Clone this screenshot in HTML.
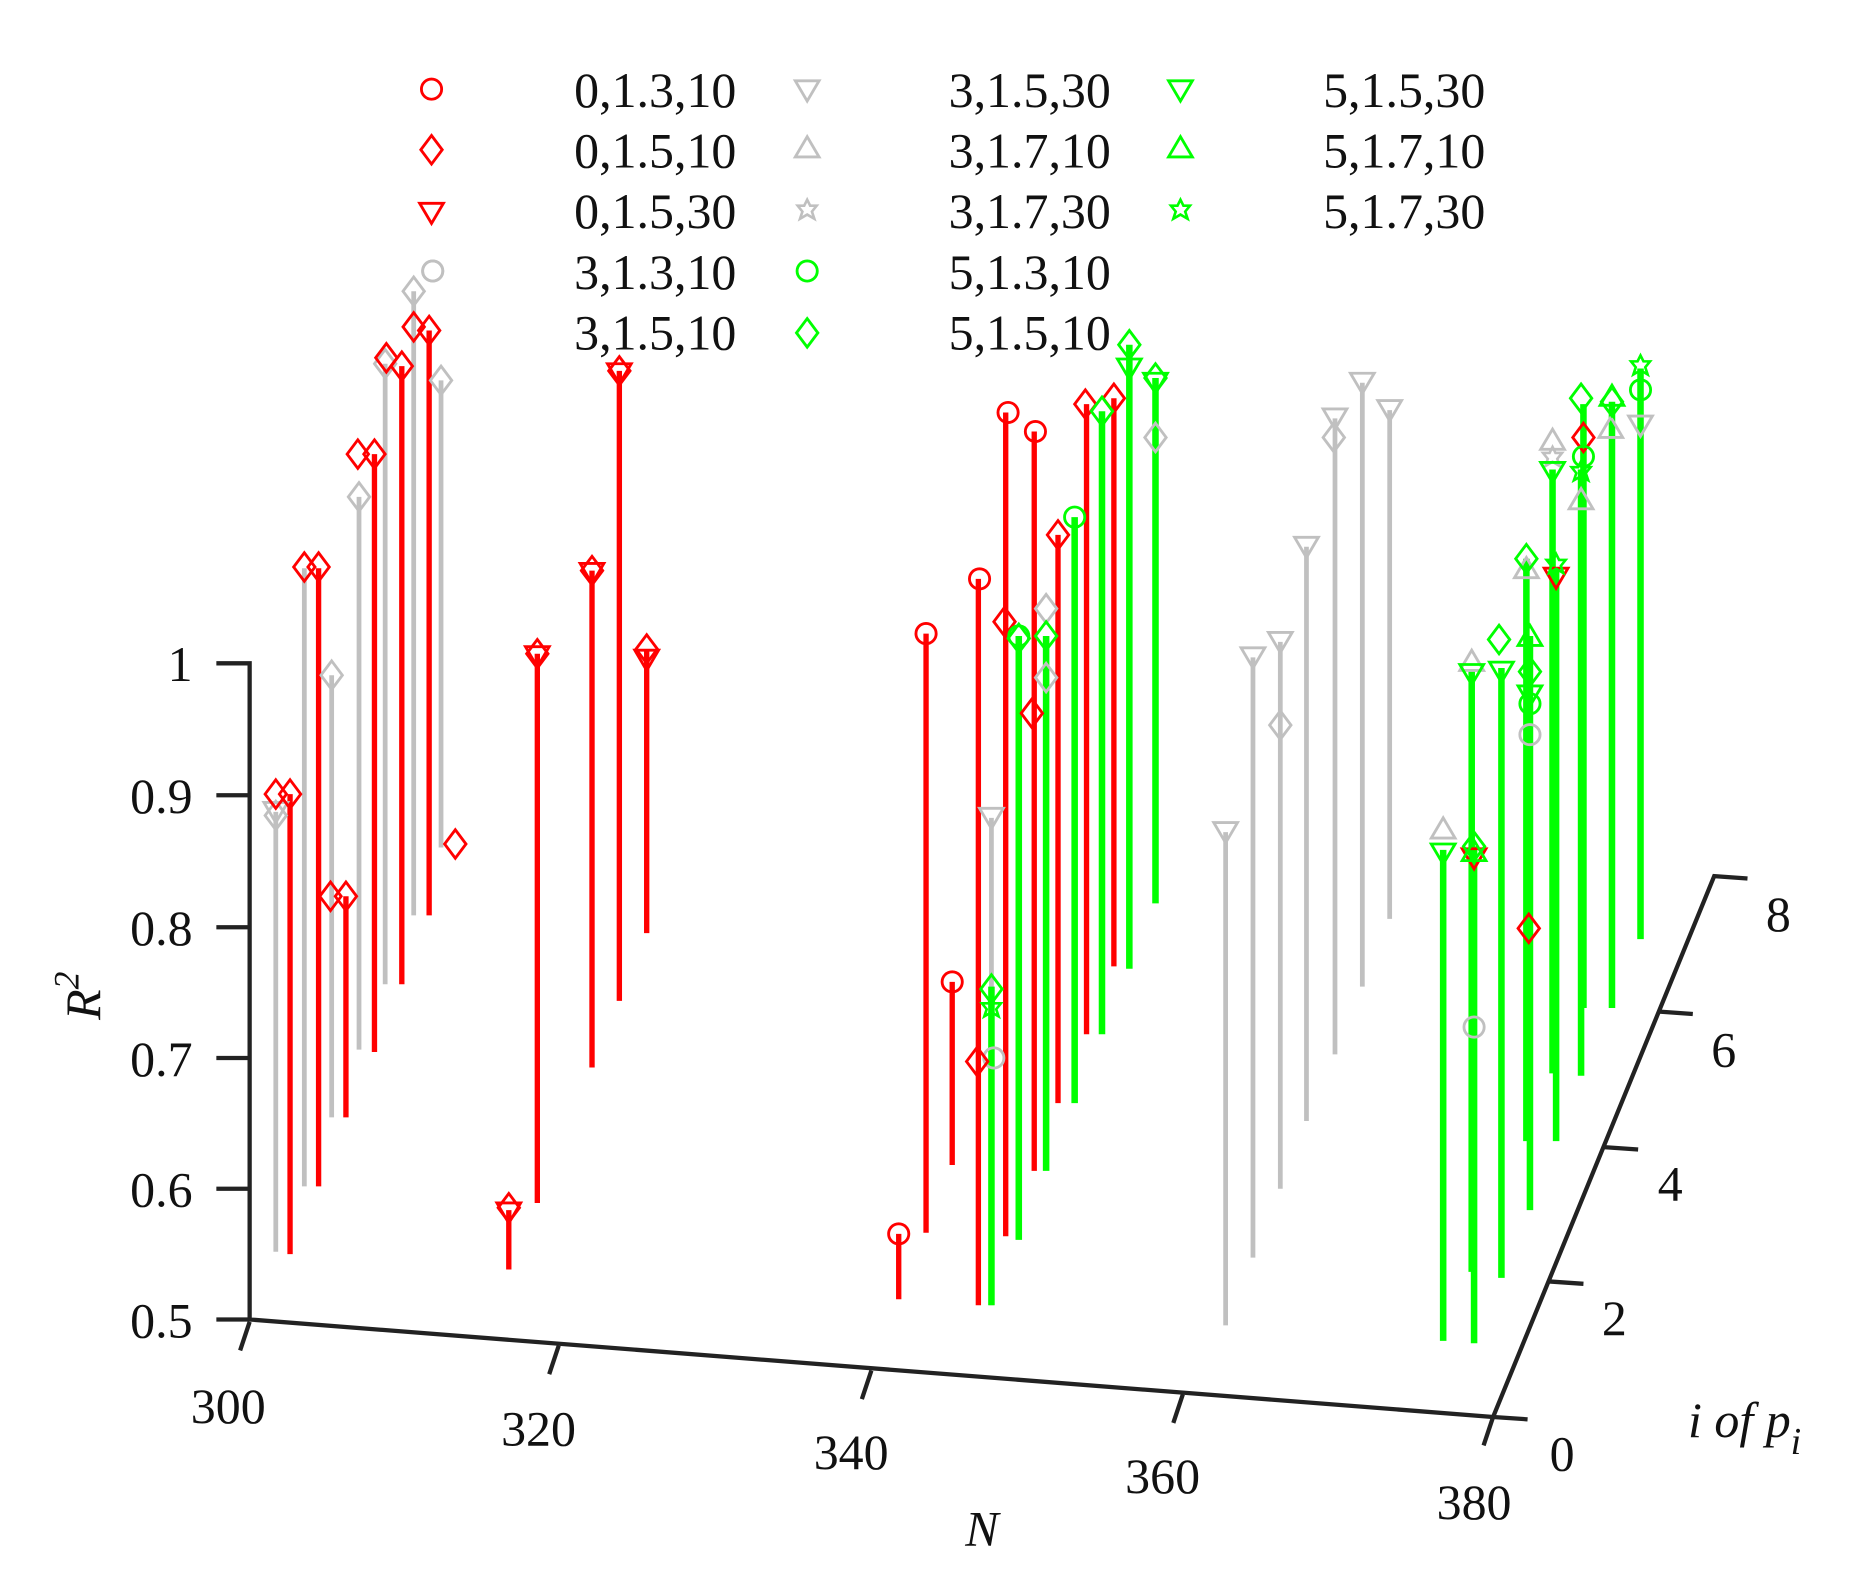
<!DOCTYPE html>
<html><head><meta charset="utf-8"><style>
html,body{margin:0;padding:0;background:#fff;}
svg{display:block;}
text{font-family:"Liberation Serif","Times New Roman",Times,serif;fill:#111;}
</style></head><body>
<svg width="1864" height="1581" viewBox="0 0 1568 1330" preserveAspectRatio="none" xmlns="http://www.w3.org/2000/svg">
<defs>
<circle id="o" r="8.5" fill="none" stroke-width="2.4"/>
<polygon id="d" points="0,-12 9,0 0,12 -9,0" fill="none" stroke-width="2.4"/>
<polygon id="v" points="-10,-8 10,-8 0,9" fill="none" stroke-width="2.4"/>
<polygon id="a" points="-10,8 10,8 0,-9" fill="none" stroke-width="2.4"/>
<polygon id="s" points="0,-9 2.5,-4 8,-4 4,1 6,7 0,3.5 -6,7 -4,1 -8,-4 -2.5,-4" fill="none" stroke-width="2.2"/>
</defs>

<g stroke="#222" stroke-width="3.6" fill="none">
<polyline points="182,558 210,558 210,1110 1256,1192 1442,737 1470,739"/>
<line x1="182" y1="669" x2="210" y2="669"/><line x1="182" y1="780" x2="210" y2="780"/>
<line x1="182" y1="890" x2="210" y2="890"/><line x1="182" y1="1000" x2="210" y2="1000"/>
<line x1="182" y1="1110" x2="210" y2="1110"/>
<line x1="210" y1="1112" x2="202" y2="1136"/><line x1="470" y1="1132" x2="462" y2="1156"/>
<line x1="733" y1="1153" x2="725" y2="1177"/><line x1="995" y1="1173" x2="987" y2="1197"/>
<line x1="1256" y1="1192" x2="1248" y2="1216"/>
<line x1="1256" y1="1192" x2="1285" y2="1194"/><line x1="1303" y1="1078" x2="1332" y2="1080"/>
<line x1="1349" y1="965" x2="1378" y2="967"/><line x1="1396" y1="851" x2="1424" y2="853"/>
</g>
<g font-size="42" text-anchor="end">
<text x="162" y="573">1</text><text x="162" y="684">0.9</text><text x="162" y="795">0.8</text>
<text x="162" y="905">0.7</text><text x="162" y="1015">0.6</text><text x="162" y="1125">0.5</text>
</g>
<g font-size="42" text-anchor="middle">
<text x="192" y="1197">300</text><text x="453" y="1216">320</text><text x="716" y="1236">340</text>
<text x="978" y="1256">360</text><text x="1240" y="1278">380</text>
<text x="1314" y="1237">0</text><text x="1358" y="1123">2</text><text x="1405" y="1010">4</text>
<text x="1450" y="897">6</text><text x="1496" y="783">8</text>
<text x="826" y="1300" font-style="italic">N</text>
</g>
<text x="1420" y="1209" font-size="42" font-style="italic">i of p<tspan font-size="32" dy="14">i</tspan></text>
<text transform="translate(84,858) rotate(-90)" font-size="42" font-style="italic">R<tspan font-size="30" dy="-18">2</tspan></text>

<g font-size="42">
<text x="483" y="90">0,1.3,10</text><text x="483" y="141">0,1.5,10</text><text x="483" y="192">0,1.5,30</text>
<text x="483" y="243">3,1.3,10</text><text x="483" y="294">3,1.5,10</text>
<text x="798" y="90">3,1.5,30</text><text x="798" y="141">3,1.7,10</text><text x="798" y="192">3,1.7,30</text>
<text x="798" y="243">5,1.3,10</text><text x="798" y="294">5,1.5,10</text>
<text x="1113" y="90">5,1.5,30</text><text x="1113" y="141">5,1.7,10</text><text x="1113" y="192">5,1.7,30</text>
</g>
<use href="#o" x="363" y="75" stroke="#f00"/><use href="#d" x="363" y="126" stroke="#f00"/>
<use href="#v" x="363" y="179" stroke="#f00"/><use href="#o" x="364" y="228" stroke="#c0c0c0"/>
<use href="#v" x="679" y="76" stroke="#c0c0c0"/><use href="#a" x="679" y="124" stroke="#c0c0c0"/>
<use href="#s" x="679" y="177" stroke="#c0c0c0"/><use href="#o" x="679" y="228" stroke="#0f0"/>
<use href="#d" x="679" y="280" stroke="#0f0"/>
<use href="#v" x="993" y="76" stroke="#0f0"/><use href="#a" x="993" y="124" stroke="#0f0"/>
<use href="#s" x="993" y="177" stroke="#0f0"/>

<g stroke="#c0c0c0" stroke-width="4">
<line x1="232" y1="683" x2="232" y2="1053"/><line x1="256" y1="478" x2="256" y2="998"/>
<line x1="279" y1="568" x2="279" y2="940"/><line x1="302" y1="418" x2="302" y2="883"/>
<line x1="324" y1="306" x2="324" y2="828"/><line x1="348" y1="245" x2="348" y2="770"/>
<line x1="371" y1="320" x2="371" y2="713"/>
<line x1="834" y1="688" x2="834" y2="1098"/>
<line x1="1031" y1="700" x2="1031" y2="1115"/><line x1="1054" y1="553" x2="1054" y2="1058"/>
<line x1="1077" y1="540" x2="1077" y2="1000"/><line x1="1099" y1="460" x2="1099" y2="943"/>
<line x1="1123" y1="352" x2="1123" y2="887"/><line x1="1146" y1="322" x2="1146" y2="830"/>
<line x1="1169" y1="345" x2="1169" y2="773"/>
</g>
<g stroke="#f00" stroke-width="4.5">
<line x1="244" y1="668" x2="244" y2="1055"/><line x1="268" y1="478" x2="268" y2="998"/>
<line x1="291" y1="754" x2="291" y2="940"/><line x1="315" y1="382" x2="315" y2="885"/>
<line x1="338" y1="308" x2="338" y2="828"/><line x1="361" y1="278" x2="361" y2="770"/>
<line x1="428" y1="1018" x2="428" y2="1068"/><line x1="452" y1="550" x2="452" y2="1012"/>
<line x1="498" y1="480" x2="498" y2="898"/><line x1="521" y1="312" x2="521" y2="842"/>
<line x1="544" y1="548" x2="544" y2="785"/>
<line x1="756" y1="1038" x2="756" y2="1093"/><line x1="779" y1="533" x2="779" y2="1037"/>
<line x1="801" y1="826" x2="801" y2="980"/><line x1="823" y1="487" x2="823" y2="1098"/>
<line x1="846" y1="347" x2="846" y2="1040"/><line x1="870" y1="363" x2="870" y2="985"/>
<line x1="890" y1="450" x2="890" y2="928"/><line x1="914" y1="340" x2="914" y2="870"/>
<line x1="937" y1="335" x2="937" y2="813"/>
</g>
<g stroke="#0f0" stroke-width="5.5">
<line x1="834" y1="830" x2="834" y2="1098"/><line x1="857" y1="535" x2="857" y2="1043"/>
<line x1="880" y1="535" x2="880" y2="985"/><line x1="904" y1="435" x2="904" y2="928"/>
<line x1="927" y1="346" x2="927" y2="870"/><line x1="950" y1="290" x2="950" y2="815"/>
<line x1="972" y1="318" x2="972" y2="760"/>
<line x1="1214" y1="715" x2="1214" y2="1128"/><line x1="1240" y1="712" x2="1240" y2="1130"/>
<line x1="1238" y1="565" x2="1238" y2="1070"/><line x1="1263" y1="562" x2="1263" y2="1075"/>
<line x1="1287" y1="535" x2="1287" y2="1018"/><line x1="1284" y1="470" x2="1284" y2="960"/>
<line x1="1309" y1="477" x2="1309" y2="960"/><line x1="1306" y1="395" x2="1306" y2="903"/>
<line x1="1330" y1="395" x2="1330" y2="905"/><line x1="1332" y1="340" x2="1332" y2="848"/>
<line x1="1356" y1="338" x2="1356" y2="848"/><line x1="1380" y1="310" x2="1380" y2="790"/>
</g>

<g stroke="#c0c0c0">
<use href="#d" x="232" y="686"/><use href="#v" x="232" y="683"/><use href="#d" x="279" y="568"/>
<use href="#d" x="302" y="418"/><use href="#d" x="324" y="306"/><use href="#d" x="348" y="245"/>
<use href="#d" x="371" y="320"/><use href="#o" x="364" y="228"/>
<use href="#v" x="834" y="688"/><use href="#o" x="836" y="890"/><use href="#d" x="880" y="512"/><use href="#d" x="880" y="570"/>
<use href="#d" x="972" y="368"/><use href="#v" x="1031" y="700"/><use href="#v" x="1054" y="553"/>
<use href="#v" x="1077" y="540"/><use href="#d" x="1077" y="610"/><use href="#v" x="1099" y="460"/>
<use href="#v" x="1123" y="352"/><use href="#d" x="1122" y="368"/><use href="#v" x="1146" y="322"/>
<use href="#v" x="1169" y="345"/><use href="#o" x="1240" y="864"/><use href="#o" x="1287" y="618"/>
<use href="#a" x="1214" y="697"/><use href="#a" x="1238" y="556"/><use href="#a" x="1306" y="370"/>
<use href="#a" x="1284" y="478"/><use href="#v" x="1380" y="358"/><use href="#a" x="1355" y="360"/>
<use href="#a" x="1330" y="420"/><use href="#s" x="1306" y="385"/>
</g>
<g stroke="#f00">
<use href="#d" x="232" y="668"/><use href="#d" x="244" y="668"/><use href="#d" x="256" y="477"/>
<use href="#d" x="268" y="477"/><use href="#d" x="278" y="754"/><use href="#d" x="291" y="754"/>
<use href="#d" x="301" y="382"/><use href="#d" x="315" y="382"/><use href="#d" x="325" y="301"/>
<use href="#d" x="338" y="308"/><use href="#d" x="348" y="275"/><use href="#d" x="361" y="278"/>
<use href="#d" x="383" y="710"/>
<use href="#v" x="428" y="1020"/><use href="#d" x="428" y="1016"/><use href="#v" x="452" y="552"/><use href="#d" x="452" y="550"/>
<use href="#v" x="498" y="482"/><use href="#d" x="498" y="480"/><use href="#v" x="521" y="314"/><use href="#d" x="521" y="312"/>
<use href="#v" x="544" y="555"/><use href="#d" x="544" y="546"/>
<use href="#o" x="756" y="1038"/><use href="#o" x="779" y="533"/><use href="#o" x="801" y="826"/>
<use href="#o" x="824" y="487"/><use href="#d" x="822" y="893"/><use href="#o" x="848" y="347"/>
<use href="#d" x="845" y="523"/><use href="#o" x="871" y="363"/><use href="#d" x="868" y="600"/>
<use href="#d" x="890" y="450"/><use href="#d" x="913" y="340"/><use href="#d" x="937" y="335"/>
<use href="#d" x="1286" y="781"/><use href="#d" x="1332" y="368"/><use href="#v" x="1309" y="486"/>
<use href="#v" x="1240" y="722"/>
</g>
<g stroke="#0f0">
<use href="#d" x="834" y="832"/><use href="#s" x="834" y="848"/><use href="#o" x="857" y="535"/><use href="#d" x="857" y="537"/>
<use href="#d" x="880" y="535"/><use href="#o" x="904" y="435"/><use href="#d" x="927" y="346"/>
<use href="#d" x="950" y="290"/><use href="#v" x="950" y="310"/><use href="#d" x="972" y="318"/><use href="#v" x="972" y="322"/>
<use href="#v" x="1214" y="718"/><use href="#d" x="1240" y="712"/><use href="#a" x="1240" y="716"/>
<use href="#v" x="1238" y="567"/><use href="#d" x="1261" y="538"/><use href="#v" x="1263" y="565"/>
<use href="#a" x="1287" y="535"/><use href="#o" x="1287" y="592"/><use href="#d" x="1287" y="565"/><use href="#v" x="1287" y="585"/>
<use href="#d" x="1284" y="470"/><use href="#s" x="1309" y="475"/><use href="#v" x="1306" y="397"/>
<use href="#s" x="1330" y="397"/><use href="#o" x="1332" y="384"/><use href="#d" x="1330" y="335"/>
<use href="#a" x="1356" y="333"/><use href="#d" x="1356" y="338"/><use href="#s" x="1380" y="308"/><use href="#o" x="1380" y="328"/>
</g>
</svg>
</body></html>
